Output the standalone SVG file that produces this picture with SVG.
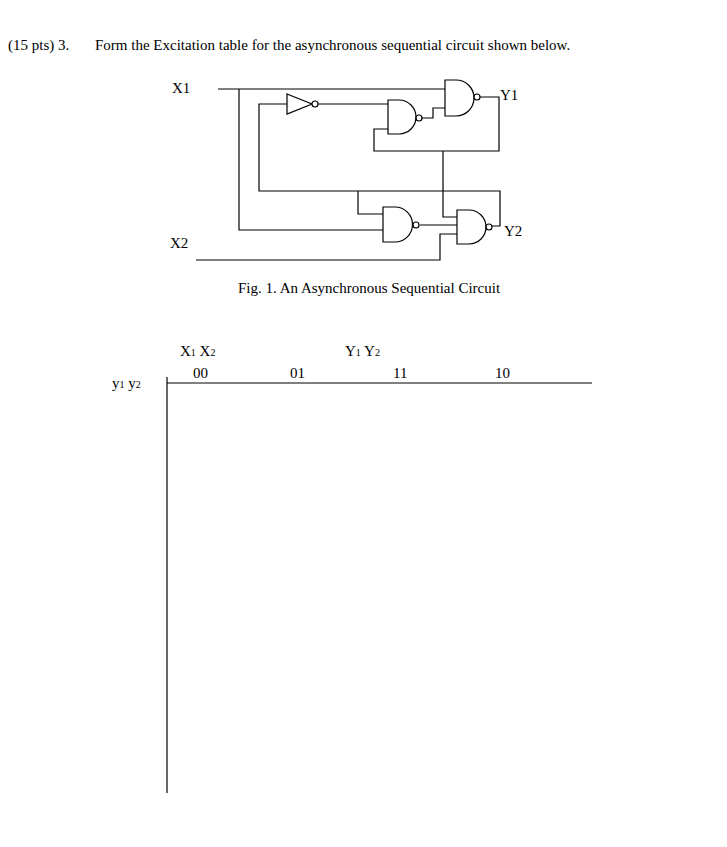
<svg xmlns="http://www.w3.org/2000/svg" width="727" height="847" viewBox="0 0 727 847">
<style>
text{font-family:"Liberation Serif",serif;font-size:15px;fill:#000}
.w{fill:none;stroke:#000;stroke-width:1.2}
.g{fill:#fff;stroke:#000;stroke-width:1.2}
</style>
<rect width="727" height="847" fill="#fff"/>
<text x="8" y="50">(15 pts) 3.</text>
<text x="95" y="50">Form the Excitation table for the asynchronous sequential circuit shown below.</text>
<text x="172" y="93">X1</text>
<text x="170" y="248">X2</text>
<text x="500" y="100">Y1</text>
<text x="504" y="236">Y2</text>
<text x="238" y="293">Fig. 1. An Asynchronous Sequential Circuit</text>
<g id="connectors" class="w">
<path d="M218 89H445"/>
<path d="M239 89V230H383"/>
<path d="M479 97H499V151H374V129H388"/>
<path d="M420 118H433V108H445"/>
<path d="M318 104H388"/>
<path d="M287 104H259V191H500V226H491"/>
<path d="M358 191V214H383"/>
<path d="M420 225H457"/>
<path d="M443 151V217H457"/>
<path d="M457 234H440V260H196"/>
</g>
<g id="nandY1"><path class="g" d="M445 80H456A18 18 0 0 1 456 116H445Z"/><circle class="g" cx="477" cy="97" r="3"/></g>
<g id="nandB"><path class="g" d="M388 100H399A17 17 0 0 1 399 134H388Z"/><circle class="g" cx="419" cy="118" r="3"/></g>
<g id="inv"><path class="g" d="M287 94L312 104L287 114Z"/><circle class="g" cx="315" cy="104" r="3"/></g>
<g id="nandC"><path class="g" d="M383 207H395A17.5 17.5 0 0 1 395 242H383Z"/><circle class="g" cx="416" cy="225" r="3"/></g>
<g id="nandY2"><path class="g" d="M457 210H469A17 17 0 0 1 469 244H457Z"/><circle class="g" cx="489" cy="227" r="3"/></g>
<text x="180" y="356">X<tspan font-size="10">1</tspan> X<tspan font-size="10">2</tspan></text>
<text x="345" y="356">Y<tspan font-size="10">1</tspan> Y<tspan font-size="10">2</tspan></text>
<text x="193" y="378" font-size="14">00</text>
<text x="290" y="378" font-size="14">01</text>
<text x="393" y="378" font-size="14">11</text>
<text x="495" y="378" font-size="14">10</text>
<text x="112" y="388">y<tspan font-size="10">1</tspan>  y<tspan font-size="10">2</tspan></text>
<g id="table" class="w"><path d="M167 383H592M167 377V793"/></g>
</svg>
